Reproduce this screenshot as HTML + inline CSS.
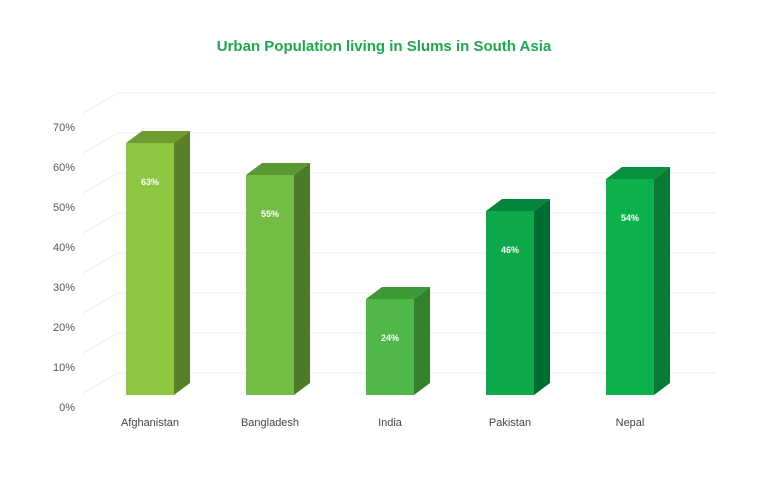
<!DOCTYPE html>
<html><head><meta charset="utf-8"><style>
body{margin:0;background:#fff;}
svg{display:block;font-family:"Liberation Sans",sans-serif;}
</style></head><body>
<svg id="chart" width="768" height="480">
<text x="384" y="51" text-anchor="middle" font-size="15" font-weight="bold" fill="#1ea84b">Urban Population living in Slums in South Asia</text>
<g id="grid"></g><g id="bars"></g>
</svg>
<script>
const categories=["Afghanistan","Bangladesh","India","Pakistan","Nepal"];
const values=[63,55,24,46,54];
const valueLabels=["63%","55%","24%","46%","54%"];
const ticks=[0,10,20,30,40,50,60,70];
const tickLabels=["0%","10%","20%","30%","40%","50%","60%","70%"];
const NS="http://www.w3.org/2000/svg";
const front=["#8dc63f","#73bd45","#50b848","#0da84a","#0db14b"];
const side=["#5b7f29","#4a7a2a","#33802f","#006b32","#077a38"];
const top_=["#6f9c30","#5a9834","#3d9a38","#04853c","#08903f"];
const yF=v=>395-v*4, yB=v=>373-v*4;
const xBar=i=>126+i*120;
function mk(tag,attrs,parent){const e=document.createElementNS(NS,tag);for(const k in attrs)e.setAttribute(k,attrs[k]);parent.appendChild(e);return e;}
const grid=document.getElementById('grid'),bars=document.getElementById('bars');
ticks.forEach((t,i)=>{
 const y=yB(t);
 let l=mk('line',{x1:118,y1:y,x2:716,y2:y,stroke:"#ececec","stroke-width":1},grid);
 
 
 let d=mk('line',{x1:118,y1:y,x2:83,y2:y+20,stroke:"#ececec","stroke-width":1},grid);
 
 
 let tx=mk('text',{x:75,y:yF(t)+16,"text-anchor":"end","font-size":11,fill:"#555"},grid);
 tx.textContent=tickLabels[i];
 
 
});
values.forEach((v,i)=>{
 const x=xBar(i),w=48,yt=yF(v),yb=yF(0),dx=16,dy=12;
 const g=mk('g',{},bars);
 
 
 mk('polygon',{points:`${x+w},${yt} ${x+w+dx},${yt-dy} ${x+w+dx},${yb-dy} ${x+w},${yb}`,fill:side[i]},g);
 mk('polygon',{points:`${x},${yt} ${x+dx},${yt-dy} ${x+w+dx},${yt-dy} ${x+w},${yt}`,fill:top_[i]},g);
 mk('rect',{x:x,y:yt,width:w,height:yb-yt,fill:front[i]},g);
 let vl=mk('text',{x:x+w/2,y:yt+42,"text-anchor":"middle","font-size":9,"font-weight":"bold",fill:"#fff"},g);
 vl.textContent=valueLabels[i];
 
 
 let cl=mk('text',{x:x+w/2,y:426,"text-anchor":"middle","font-size":11,fill:"#444"},g);
 cl.textContent=categories[i];
 
 
});
</script>
</body></html>
